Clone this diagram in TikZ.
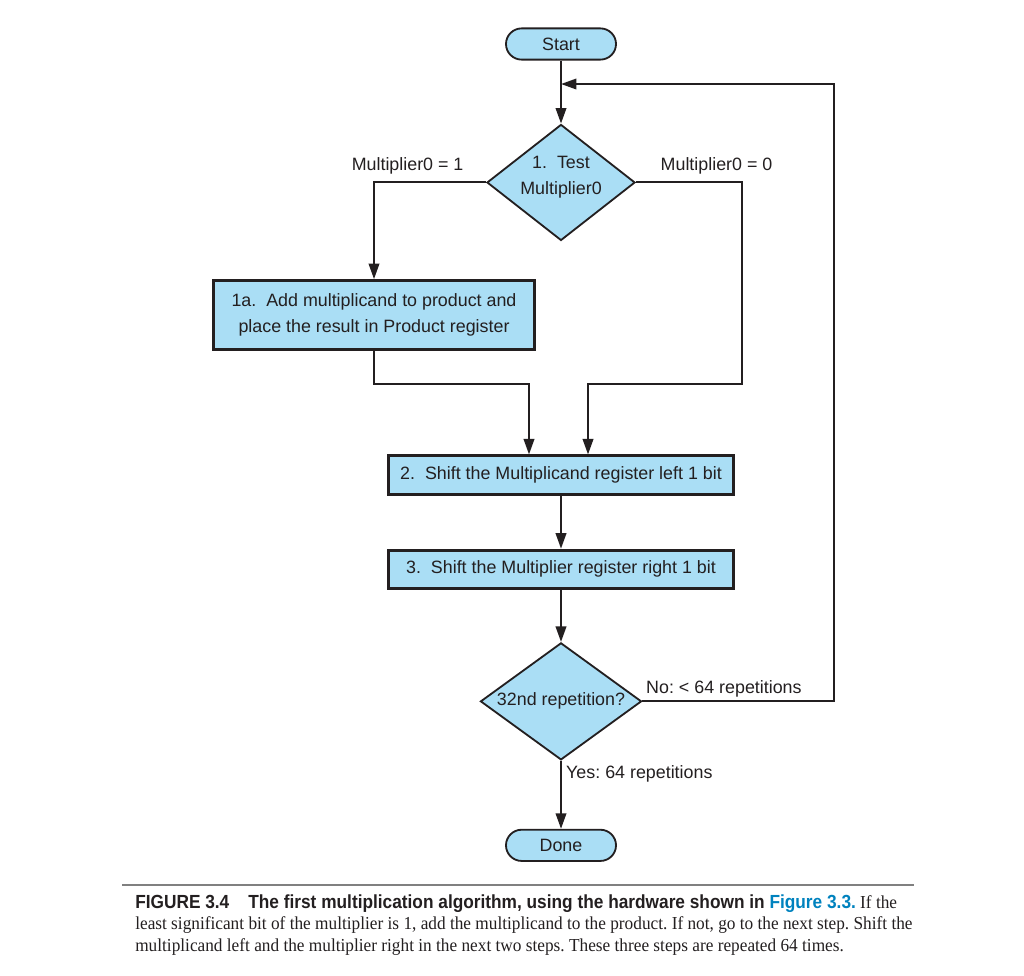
\documentclass[tikz,border=0pt]{standalone}
\usepackage{fontspec}
\setsansfont{Liberation Sans}
\newfontfamily\capsans[FakeStretch=0.91]{Liberation Sans}
\newfontfamily\capserif[FakeStretch=0.945]{Liberation Serif}
\usepackage{xcolor}
\usetikzlibrary{arrows.meta, positioning, shapes.geometric}
\definecolor{flowblue}{RGB}{170, 222, 245}
\definecolor{linkblue}{RGB}{0, 130, 190}
\definecolor{inkgray}{RGB}{35, 31, 32}
\frenchspacing

\begin{document}
\begin{tikzpicture}[
    x=0.025cm, y=-0.025cm,
    font=\sffamily\fontsize{12.7}{19}\selectfont, text=inkgray,
    box/.style={rectangle, draw=inkgray, fill=flowblue, line width=2pt, minimum width=8.625cm, minimum height=0.96cm, align=center, inner sep=0pt},
    pill/.style={rectangle, draw=inkgray, fill=flowblue, line width=1.3pt, minimum width=2.75cm, minimum height=0.78cm, rounded corners=0.39cm},
    decision/.style={diamond, draw=inkgray, fill=flowblue, line width=1.3pt, inner sep=0pt, aspect=1.3},
    arrow/.style={-{Triangle[length=11pt, width=7.5pt]}, line width=1.4pt, color=inkgray}
]
\useasboundingbox (0,0) rectangle (1024,975);

\node[pill] (start) at (561,44) {Start};

\node[decision, minimum width=3.7cm, minimum height=2.9cm, below=1.575cm of start] (test) {\makebox[0pt]{\raisebox{0pt}[\height][\dimexpr\depth+9pt\relax]{\begin{tabular}{@{}c@{}}1.~ Test\\ Multiplier0\end{tabular}}}};

\node[box, minimum width=8.025cm, minimum height=1.725cm] (add) at (374,315) {1a.~ Add multiplicand to product and\\ place the result in Product register};

\node[box, below=5.325cm of test] (shiftl) {2.~ Shift the Multiplicand register left 1 bit};

\node[box, below=1.325cm of shiftl] (shiftr) {3.~ Shift the Multiplier register right 1 bit};

\node[decision, minimum width=4.025cm, minimum height=2.925cm, below=1.3cm of shiftr] (check) {\makebox[0pt]{32nd repetition?}};

\node[pill, below=1.7cm of check] (done) {Done};

\coordinate (join) at (561,84);
\coordinate (loopr) at (834,84);
\coordinate (rbend) at (742,384);
\coordinate (lbend) at (529,384);

\draw[arrow] (start) -- (test);
\draw[arrow] (test.west) -| node[pos=0.35, above=2pt] {Multiplier0 = 1} (add.north);
\draw[arrow] (test.east) -| node[pos=0.38, above=2pt] {Multiplier0 = 0} (rbend) -| ([xshift=0.675cm]shiftl.north);
\draw[arrow] (add.south) |- (lbend) -- ([xshift=-0.8cm]shiftl.north);
\draw[arrow] (shiftl) -- (shiftr);
\draw[arrow] (shiftr) -- (check);
\draw[arrow] (check.east) -| node[pos=0, above right, inner sep=2pt] {No: < 64 repetitions} (loopr) -- (join);
\draw[arrow] (check) -- node[pos=0, below right, inner sep=3pt] {Yes: 64 repetitions} (done);

\draw[line width=0.8pt, gray] (122,885) -- (914,885);
\node[anchor=north west, align=left, inner sep=0pt, font=\capserif\fontsize{13}{15.3}\selectfont] (caption) at (135,894) {{\capsans\fontsize{13.5}{15.3}\selectfont\bfseries FIGURE 3.4\quad The first multiplication algorithm, using the hardware shown in \textcolor{linkblue}{Figure 3.3.}} If the\\ least significant bit of the multiplier is 1, add the multiplicand to the product. If not, go to the next step. Shift the\\ multiplicand left and the multiplier right in the next two steps. These three steps are repeated 64 times.};
\end{tikzpicture}
\end{document}
